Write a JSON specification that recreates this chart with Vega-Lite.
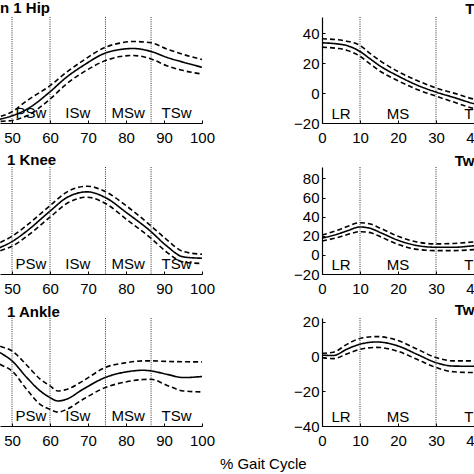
{
  "$schema": "https://vega.github.io/schema/vega-lite/v6.json",
  "padding": 0,
  "background": "white",
  "datasets": {
    "hip1": [
      {"x": 45, "m": -18.5, "hi": -16.5, "lo": -20.5},
      {"x": 46.8, "m": -17.5, "hi": -15.7, "lo": -19},
      {"x": 50, "m": -15.2, "hi": -12.5, "lo": -18.3},
      {"x": 53.9, "m": -10.8, "hi": -5.1, "lo": -15.2},
      {"x": 60, "m": 0.9, "hi": 5, "lo": -4},
      {"x": 64.3, "m": 10.6, "hi": 13.9, "lo": 6.1},
      {"x": 68.7, "m": 18.4, "hi": 21.8, "lo": 13.9},
      {"x": 74.6, "m": 26.9, "hi": 30.8, "lo": 21.8},
      {"x": 78.4, "m": 29.2, "hi": 33.5, "lo": 24.5},
      {"x": 81.9, "m": 29.9, "hi": 34.6, "lo": 25.2},
      {"x": 86.6, "m": 27.9, "hi": 33.7, "lo": 22.9},
      {"x": 90.7, "m": 24, "hi": 29.6, "lo": 18.4},
      {"x": 95.1, "m": 20.7, "hi": 25.9, "lo": 15.1},
      {"x": 100, "m": 17.3, "hi": 22.5, "lo": 12.8}
    ],
    "knee1": [
      {"x": 45, "m": 4.5, "hi": 9.5, "lo": 1},
      {"x": 46.8, "m": 7.6, "hi": 12.8, "lo": 4.2},
      {"x": 50, "m": 13.9, "hi": 19.5, "lo": 9},
      {"x": 53.9, "m": 25, "hi": 31, "lo": 19.5},
      {"x": 60, "m": 45.8, "hi": 51.5, "lo": 39.5},
      {"x": 64.3, "m": 59.7, "hi": 65.5, "lo": 53.5},
      {"x": 69.8, "m": 66, "hi": 71.9, "lo": 60.4},
      {"x": 74.7, "m": 59.7, "hi": 66, "lo": 53.5},
      {"x": 80.2, "m": 44, "hi": 51, "lo": 37},
      {"x": 86.4, "m": 25, "hi": 31, "lo": 18},
      {"x": 90.7, "m": 9.4, "hi": 16, "lo": 3},
      {"x": 95.1, "m": -2.1, "hi": 3.5, "lo": -7.5},
      {"x": 100, "m": -3.5, "hi": 0.7, "lo": -9}
    ],
    "ankle1": [
      {"x": 45, "m": 4.5, "hi": 8, "lo": -2},
      {"x": 46.8, "m": 2.3, "hi": 6.1, "lo": -4.4},
      {"x": 50, "m": -2.5, "hi": 3.3, "lo": -8.3},
      {"x": 53.9, "m": -12.1, "hi": -5, "lo": -19},
      {"x": 57.4, "m": -19.8, "hi": -13, "lo": -27.5},
      {"x": 60, "m": -23.6, "hi": -16.9, "lo": -30.4},
      {"x": 62.1, "m": -25.6, "hi": -19.8, "lo": -32},
      {"x": 64.3, "m": -24.6, "hi": -19, "lo": -30.5},
      {"x": 68.7, "m": -18.8, "hi": -14, "lo": -24.6},
      {"x": 74.5, "m": -12.1, "hi": -6.3, "lo": -17.9},
      {"x": 80.2, "m": -8.8, "hi": -3.5, "lo": -14.5},
      {"x": 84.6, "m": -7.9, "hi": -2.5, "lo": -13.2},
      {"x": 86.6, "m": -8.3, "hi": -2.5, "lo": -13.1},
      {"x": 90.7, "m": -10.2, "hi": -2.8, "lo": -16.5},
      {"x": 95.1, "m": -12.1, "hi": -3, "lo": -19.8},
      {"x": 100, "m": -11.5, "hi": -3.1, "lo": -20.4}
    ],
    "hip2": [
      {"x": 0, "m": 33.7, "hi": 36.4, "lo": 30.8},
      {"x": 3.9, "m": 33, "hi": 35.8, "lo": 30},
      {"x": 6.5, "m": 31.9, "hi": 34.8, "lo": 28.8},
      {"x": 10, "m": 27.9, "hi": 31.9, "lo": 24.7},
      {"x": 12.7, "m": 22.9, "hi": 26.5, "lo": 19.5},
      {"x": 15.4, "m": 18, "hi": 21.5, "lo": 14.5},
      {"x": 20, "m": 11.5, "hi": 14.5, "lo": 8.3},
      {"x": 25, "m": 5.4, "hi": 8.5, "lo": 2.5},
      {"x": 30, "m": 0.7, "hi": 3.5, "lo": -2},
      {"x": 34.7, "m": -2.9, "hi": 0, "lo": -6},
      {"x": 40, "m": -7, "hi": -4, "lo": -10.3},
      {"x": 42, "m": -8, "hi": -5, "lo": -11.5}
    ],
    "knee2": [
      {"x": 0, "m": 17.4, "hi": 20.8, "lo": 14.6},
      {"x": 3.9, "m": 21.5, "hi": 25.5, "lo": 18},
      {"x": 6.5, "m": 25, "hi": 29.5, "lo": 21},
      {"x": 10, "m": 29.2, "hi": 33.7, "lo": 24.3},
      {"x": 12.7, "m": 27.8, "hi": 32.3, "lo": 23.3},
      {"x": 15.4, "m": 23.3, "hi": 27.8, "lo": 19},
      {"x": 20, "m": 15.3, "hi": 19.5, "lo": 11},
      {"x": 25, "m": 9.8, "hi": 13.5, "lo": 5.8},
      {"x": 30, "m": 8, "hi": 11.5, "lo": 4.5},
      {"x": 34.7, "m": 8, "hi": 12, "lo": 4.5},
      {"x": 40, "m": 9.5, "hi": 13.5, "lo": 5.5},
      {"x": 42, "m": 10, "hi": 14, "lo": 6}
    ],
    "ankle2": [
      {"x": 0, "m": 0.8, "hi": 1.9, "lo": -0.6},
      {"x": 3, "m": 0.6, "hi": 2.5, "lo": -1.2},
      {"x": 6.5, "m": 4.2, "hi": 7, "lo": 1.5},
      {"x": 10, "m": 7.1, "hi": 10.4, "lo": 4.2},
      {"x": 14.4, "m": 8.4, "hi": 11.5, "lo": 5.3},
      {"x": 20, "m": 6.1, "hi": 9.2, "lo": 3},
      {"x": 25, "m": 1.3, "hi": 4.3, "lo": -1.6},
      {"x": 30, "m": -3.5, "hi": -0.6, "lo": -6.3},
      {"x": 34.7, "m": -5.5, "hi": -2.5, "lo": -8.8},
      {"x": 40, "m": -5.6, "hi": -2.5, "lo": -9.2},
      {"x": 42, "m": -5.6, "hi": -2.5, "lo": -9.2}
    ],
    "phaseL": [{"x": 50}, {"x": 60}, {"x": 74.6}, {"x": 86.6}],
    "phaseR": [{"x": 10}, {"x": 30}],
    "labL": [{"x": 55, "t": "PSw"}, {"x": 67.3, "t": "ISw"}, {"x": 80.6, "t": "MSw"}, {"x": 93.3, "t": "TSw"}],
    "labR": [{"x": 5, "t": "LR"}, {"x": 20, "t": "MS"}, {"x": 40.5, "t": "TSt"}]
  },
  "title": {"text": "% Gait Cycle", "orient": "bottom", "anchor": "middle", "fontWeight": "normal", "fontSize": 15, "dx": 26, "offset": 9},
  "columns": 2,
  "align": "each",
  "spacing": {"row": 44, "column": 120},
  "bounds": "flush",
  "concat": [
    {
      "width": 202, "height": 106,
      "title": {"text": "n 1 Hip", "anchor": "start", "offset": 1},
      "encoding": {"x": {"field": "x", "type": "quantitative", "scale": {"domain": [46.84, 100], "nice": false, "zero": false}, "axis": {"values": [50, 60, 70, 80, 90, 100], "title": null, "labelOverlap": false}}},
      "layer": [
        {"data": {"name": "hip1"}, "transform": [{"fold": ["m", "hi", "lo"], "as": ["s", "v"]}],
         "mark": {"type": "line", "clip": true, "interpolate": "monotone", "color": "black", "strokeWidth": 1.6},
         "encoding": {"y": {"field": "v", "type": "quantitative", "scale": {"domain": [-20, 51], "nice": false, "zero": false}, "axis": null},
           "detail": {"field": "s"},
           "strokeDash": {"field": "s", "type": "nominal", "scale": {"domain": ["m", "hi", "lo"], "range": [[1, 0], [5, 3], [5, 3]]}, "legend": null}}},
        {"data": {"name": "phaseL"}, "mark": {"type": "rule", "color": "#333", "strokeDash": [1, 1.2], "strokeWidth": 1}, "encoding": {}},
        {"data": {"name": "labL"}, "mark": {"type": "text", "clip": true, "baseline": "alphabetic", "dy": -5, "fontSize": 15, "font": "Liberation Sans", "color": "black"},
         "encoding": {"y": {"datum": -20, "axis": null}, "text": {"field": "t"}}}
      ]
    },
    {
      "width": 152, "height": 106,
      "title": {"text": "T", "anchor": "end", "offset": 0},
      "encoding": {"x": {"field": "x", "type": "quantitative", "scale": {"domain": [0, 40], "nice": false, "zero": false}, "axis": {"values": [0, 10, 20, 30, 40], "title": null, "labelOverlap": false, "labelExpr": "datum.value == 40 ? '4' : datum.label", "labelAlign": {"condition": {"test": "datum.value == 40", "value": "right"}, "value": "center"}}}},
      "layer": [
        {"data": {"name": "hip2"}, "transform": [{"fold": ["m", "hi", "lo"], "as": ["s", "v"]}],
         "mark": {"type": "line", "clip": true, "interpolate": "monotone", "color": "black", "strokeWidth": 1.6},
         "encoding": {"y": {"field": "v", "type": "quantitative", "scale": {"domain": [-20, 51], "nice": false, "zero": false}, "axis": {"values": [-20, 0, 20, 40], "title": null, "labelOverlap": false}},
           "detail": {"field": "s"},
           "strokeDash": {"field": "s", "type": "nominal", "scale": {"domain": ["m", "hi", "lo"], "range": [[1, 0], [5, 3], [5, 3]]}, "legend": null}}},
        {"data": {"name": "phaseR"}, "mark": {"type": "rule", "color": "#333", "strokeDash": [1, 1.2], "strokeWidth": 1}, "encoding": {}},
        {"data": {"name": "labR"}, "mark": {"type": "text", "clip": true, "baseline": "alphabetic", "dy": -4, "fontSize": 15, "font": "Liberation Sans", "color": "black"},
         "encoding": {"y": {"datum": -20, "axis": {"values": [-20, 0, 20, 40], "title": null, "labelOverlap": false}}, "text": {"field": "t"}}}
      ]
    },
    {
      "width": 202, "height": 107,
      "title": {"text": "1 Knee", "anchor": "start", "offset": -1, "dx": 7},
      "encoding": {"x": {"field": "x", "type": "quantitative", "scale": {"domain": [46.84, 100], "nice": false, "zero": false}, "axis": {"values": [50, 60, 70, 80, 90, 100], "title": null, "labelOverlap": false}}},
      "layer": [
        {"data": {"name": "knee1"}, "transform": [{"fold": ["m", "hi", "lo"], "as": ["s", "v"]}],
         "mark": {"type": "line", "clip": true, "interpolate": "monotone", "color": "black", "strokeWidth": 1.6},
         "encoding": {"y": {"field": "v", "type": "quantitative", "scale": {"domain": [-20, 92], "nice": false, "zero": false}, "axis": null},
           "detail": {"field": "s"},
           "strokeDash": {"field": "s", "type": "nominal", "scale": {"domain": ["m", "hi", "lo"], "range": [[1, 0], [5, 3], [5, 3]]}, "legend": null}}},
        {"data": {"name": "phaseL"}, "mark": {"type": "rule", "color": "#333", "strokeDash": [1, 1.2], "strokeWidth": 1}, "encoding": {}},
        {"data": {"name": "labL"}, "mark": {"type": "text", "clip": true, "baseline": "alphabetic", "dy": -5, "fontSize": 15, "font": "Liberation Sans", "color": "black"},
         "encoding": {"y": {"datum": -20, "axis": null}, "text": {"field": "t"}}}
      ]
    },
    {
      "width": 152, "height": 107,
      "title": {"text": "Tw", "anchor": "end", "offset": -2},
      "encoding": {"x": {"field": "x", "type": "quantitative", "scale": {"domain": [0, 40], "nice": false, "zero": false}, "axis": {"values": [0, 10, 20, 30, 40], "title": null, "labelOverlap": false, "labelExpr": "datum.value == 40 ? '4' : datum.label", "labelAlign": {"condition": {"test": "datum.value == 40", "value": "right"}, "value": "center"}}}},
      "layer": [
        {"data": {"name": "knee2"}, "transform": [{"fold": ["m", "hi", "lo"], "as": ["s", "v"]}],
         "mark": {"type": "line", "clip": true, "interpolate": "monotone", "color": "black", "strokeWidth": 1.6},
         "encoding": {"y": {"field": "v", "type": "quantitative", "scale": {"domain": [-20, 92], "nice": false, "zero": false}, "axis": {"values": [-20, 0, 20, 40, 60, 80], "title": null, "labelOverlap": false}},
           "detail": {"field": "s"},
           "strokeDash": {"field": "s", "type": "nominal", "scale": {"domain": ["m", "hi", "lo"], "range": [[1, 0], [5, 3], [5, 3]]}, "legend": null}}},
        {"data": {"name": "phaseR"}, "mark": {"type": "rule", "color": "#333", "strokeDash": [1, 1.2], "strokeWidth": 1}, "encoding": {}},
        {"data": {"name": "labR"}, "mark": {"type": "text", "clip": true, "baseline": "alphabetic", "dy": -4, "fontSize": 15, "font": "Liberation Sans", "color": "black"},
         "encoding": {"y": {"datum": -20, "axis": {"values": [-20, 0, 20, 40, 60, 80], "title": null, "labelOverlap": false}}, "text": {"field": "t"}}}
      ]
    },
    {
      "width": 202, "height": 108,
      "title": {"text": "1 Ankle", "anchor": "start", "offset": -2, "dx": 7},
      "encoding": {"x": {"field": "x", "type": "quantitative", "scale": {"domain": [46.84, 100], "nice": false, "zero": false}, "axis": {"values": [50, 60, 70, 80, 90, 100], "title": null, "labelOverlap": false}}},
      "layer": [
        {"data": {"name": "ankle1"}, "transform": [{"fold": ["m", "hi", "lo"], "as": ["s", "v"]}],
         "mark": {"type": "line", "clip": true, "interpolate": "monotone", "color": "black", "strokeWidth": 1.6},
         "encoding": {"y": {"field": "v", "type": "quantitative", "scale": {"domain": [-40, 22.2], "nice": false, "zero": false}, "axis": null},
           "detail": {"field": "s"},
           "strokeDash": {"field": "s", "type": "nominal", "scale": {"domain": ["m", "hi", "lo"], "range": [[1, 0], [5, 3], [5, 3]]}, "legend": null}}},
        {"data": {"name": "phaseL"}, "mark": {"type": "rule", "color": "#333", "strokeDash": [1, 1.2], "strokeWidth": 1}, "encoding": {}},
        {"data": {"name": "labL"}, "mark": {"type": "text", "clip": true, "baseline": "alphabetic", "dy": -5, "fontSize": 15, "font": "Liberation Sans", "color": "black"},
         "encoding": {"y": {"datum": -40, "axis": null}, "text": {"field": "t"}}}
      ]
    },
    {
      "width": 152, "height": 108,
      "title": {"text": "Tw", "anchor": "end", "offset": -3},
      "encoding": {"x": {"field": "x", "type": "quantitative", "scale": {"domain": [0, 40], "nice": false, "zero": false}, "axis": {"values": [0, 10, 20, 30, 40], "title": null, "labelOverlap": false, "labelExpr": "datum.value == 40 ? '4' : datum.label", "labelAlign": {"condition": {"test": "datum.value == 40", "value": "right"}, "value": "center"}}}},
      "layer": [
        {"data": {"name": "ankle2"}, "transform": [{"fold": ["m", "hi", "lo"], "as": ["s", "v"]}],
         "mark": {"type": "line", "clip": true, "interpolate": "monotone", "color": "black", "strokeWidth": 1.6},
         "encoding": {"y": {"field": "v", "type": "quantitative", "scale": {"domain": [-40, 22.2], "nice": false, "zero": false}, "axis": {"values": [-40, -20, 0, 20], "title": null, "labelOverlap": false}},
           "detail": {"field": "s"},
           "strokeDash": {"field": "s", "type": "nominal", "scale": {"domain": ["m", "hi", "lo"], "range": [[1, 0], [5, 3], [5, 3]]}, "legend": null}}},
        {"data": {"name": "phaseR"}, "mark": {"type": "rule", "color": "#333", "strokeDash": [1, 1.2], "strokeWidth": 1}, "encoding": {}},
        {"data": {"name": "labR"}, "mark": {"type": "text", "clip": true, "baseline": "alphabetic", "dy": -4, "fontSize": 15, "font": "Liberation Sans", "color": "black"},
         "encoding": {"y": {"datum": -40, "axis": {"values": [-40, -20, 0, 20], "title": null, "labelOverlap": false}}, "text": {"field": "t"}}}
      ]
    }
  ],
  "config": {
    "font": "Liberation Sans",
    "view": {"stroke": null},
    "axis": {"labelFont": "Liberation Sans", "labelFontSize": 15, "labelColor": "black", "domainColor": "black", "domainWidth": 1.2, "tickColor": "black", "tickSize": -3, "labelPadding": 10, "grid": false, "labelFlush": false, "labelOverlap": false, "labelBound": false},
    "axisY": {"labelPadding": 6},
    "title": {"font": "Liberation Sans", "fontSize": 15, "fontWeight": "bold", "color": "black", "baseline": "alphabetic"}
  }
}
